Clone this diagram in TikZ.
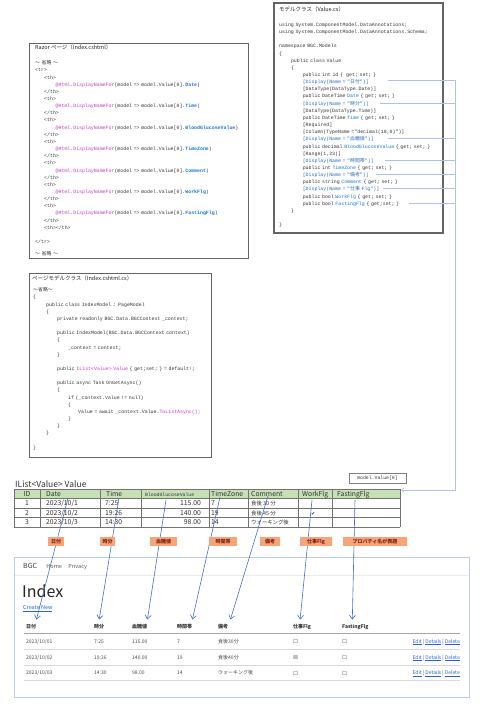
\documentclass[tikz,border=0pt]{standalone}
\usepackage{fontspec}
\setmainfont{Noto Sans CJK JP}
\newfontfamily\codefont{Liberation Mono}
\newfontfamily\jp{Noto Sans CJK JP}
\newfontfamily\symfont{DejaVu Sans}
\usetikzlibrary{arrows.meta,positioning}

\definecolor{codegray}{RGB}{55,55,55}
\definecolor{dispblue}{RGB}{40,110,190}
\definecolor{propblue}{RGB}{30,120,210}
\definecolor{razmag}{RGB}{200,60,190}
\definecolor{framegray}{RGB}{100,100,100}
\definecolor{linkline}{RGB}{175,195,225}
\definecolor{flowblue}{RGB}{68,114,196}
\definecolor{hdrgreen}{RGB}{197,224,180}
\definecolor{tagfill}{RGB}{246,165,122}
\definecolor{tagtext}{RGB}{130,35,15}
\definecolor{webframe}{RGB}{190,205,230}
\definecolor{weblink}{RGB}{40,100,220}

\newcommand\ia{\hspace*{11.8pt}}
\newcommand\ib{\hspace*{23.6pt}}
\newcommand\ra{\hspace*{9pt}}
\newcommand\rb{\hspace*{20.5pt}}
\newcommand\dsp[1]{\textcolor{dispblue}{#1}}
\newcommand\prp[1]{\textcolor{propblue}{#1}}
\newcommand\mg[1]{\textcolor{razmag}{#1}}
\newcommand\hn[1]{\mg{@Html.DisplayNameFor}(model => model.Value[0].\textbf{\prp{#1}})}

\begin{document}
\begin{tikzpicture}[x=1pt,y=-1pt,
  code/.style={font=\codefont\fontsize{4.9}{7.15}\selectfont,text=codegray,align=left,
    text width=220pt,inner sep=0pt,anchor=base west},
  ttl/.style={font=\fontsize{5.5}{6}\selectfont,text=black!85,inner sep=0pt,anchor=base west},
  frame/.style={draw=framegray,line width=0.9pt},
  tcell/.style={anchor=base west,font=\fontsize{6.8}{7}\selectfont,text=black!80,inner sep=0pt},
  tline/.style={draw=black!55,line width=0.4pt},
  tag/.style={fill=tagfill,text=tagtext,font=\fontsize{5}{6}\selectfont\bfseries,
    minimum height=9.5pt,inner sep=0pt},
  flow/.style={draw=flowblue,line width=0.6pt,-{Straight Barb[length=4pt,width=6pt]}},
  link/.style={draw=linkline,line width=0.6pt},
  whd/.style={anchor=base west,font=\fontsize{5}{6}\selectfont\bfseries,text=black!80,
    inner xsep=0pt,inner ysep=4pt},
  wcell/.style={anchor=base west,font=\fontsize{5}{6}\selectfont,text=black!70,inner sep=0pt},
  navlink/.style={font=\fontsize{5.5}{6}\selectfont,text=black!65,inner sep=0pt},
  cbox/.style={draw=black!22,line width=0.3pt}]
  \path[fill=white] (0,0) rectangle (474,706);

  % model class
  \draw[frame,line width=1.1pt] (274,3) rectangle (443,233);
  \node[ttl] (mtitle) at (279,12) {モデルクラス（Value.cs）};
  \node[code] (mcode) at (279,26.5) {using System.ComponentModel.DataAnnotations;\\
using System.ComponentModel.DataAnnotations.Schema;\\
\mbox{}\\
namespace BGC.Models\\
\{\\
\ia public class Value\\
\ia\{\\
\ib public int id \{~ get; set; \}\\
\ib\dsp{[Display(Name = "{\jp 日付}")]}\\
\ib [DataType(DataType.Date)]\\
\ib public DateTime \prp{Date} \{ get; set; \}\\
\ib\dsp{[Display(Name = "{\jp 時分}")]}\\
\ib [DataType(DataType.Time)]\\
\ib public DateTime \prp{Time} \{ get; set; \}\\
\ib [Required]\\
\ib [Column(TypeName ="decimal(18,0)")]\\
\ib\dsp{[Display(Name = "{\jp 血糖値}")]}\\
\ib public decimal \prp{BloodGlucoseValue} \{ get; set; \}\\
\ib [Range(1,23)]\\
\ib\dsp{[Display(Name = "{\jp 時間帯}")]}\\
\ib public int \prp{TimeZone} \{ get; set; \}\\
\ib\dsp{[Display(Name = "{\jp 備考}")]}\\
\ib public string \prp{Comment} \{ get; set; \}\\
\ib\dsp{[Display(Name = "{\jp 仕事} Flg")]}\\
\ib public bool \prp{WorkFlg} \{ get; set; \}\\
\ib public bool \prp{FastingFlg} \{ get;set; \}\\
\ia\}\\
\mbox{}\\
\}};

  % razor page
  \draw[frame] (29,43) rectangle (248,258);
  \node[ttl] (rtitle) at (35,50) {Razor ページ（Index.cshtml）};
  \node[code] (rcode) at (35,64.8) {{\jp ～ 省略 ～}\\
<tr>\\
\ra <th>\\
\rb\hn{Date}\\
\ra </th>\\
\ra <th>\\
\rb\hn{Time}\\
\ra </th>\\
\ra <th>\\
\rb\hn{BloodGlucoseValue}\\
\ra </th>\\
\ra <th>\\
\rb\hn{TimeZone}\\
\ra </th>\\
\ra <th>\\
\rb\hn{Comment}\\
\ra </th>\\
\ra <th>\\
\rb\hn{WorkFlg}\\
\ra </th>\\
\ra <th>\\
\rb\hn{FastingFlg}\\
\ra </th>\\
\ra <th></th>\\
\mbox{}\\
</tr>};
  \node[code] (romit) at (35,255) {{\jp ～ 省略 ～}};

  % page model
  \draw[frame] (29,273) rectangle (211,457);
  \node[ttl] (ptitle) at (32,280) {ページモデルクラス（Index.cshtml.cs）};
  \node[code] (pcode) at (33,291.8) {{\jp ～省略～}\\
\{\\
\hspace*{13pt}public class IndexModel : PageModel\\
\hspace*{13pt}\{\\
\hspace*{24pt}private readonly BGC.Data.BGCContext \_context;\\
\mbox{}\\
\hspace*{24pt}public IndexModel(BGC.Data.BGCContext context)\\
\hspace*{24pt}\{\\
\hspace*{35pt}\_context = context;\\
\hspace*{24pt}\}\\
\mbox{}\\
\hspace*{24pt}public \mg{IList<Value> Value} \{ get;set; \} = default!;\\
\mbox{}\\
\hspace*{24pt}public async Task OnGetAsync()\\
\hspace*{24pt}\{\\
\hspace*{35pt}if (\_context.Value != null)\\
\hspace*{35pt}\{\\
\hspace*{45pt}Value = await \_context.Value.\mg{ToListAsync();}\\
\hspace*{35pt}\}\\
\hspace*{24pt}\}\\
\hspace*{13pt}\}\\
\mbox{}\\
\}};

  % display links to the list
  \coordinate (dDate) at (388,80);
  \coordinate (dTime) at (380,103);
  \coordinate (dBgv) at (388,138);
  \coordinate (dZone) at (385,160);
  \coordinate (dCom) at (376,174);
  \coordinate (dWork) at (383,188);
  \coordinate (dFast) at (409,203);
  \coordinate (bTop) at (455,80);
  \coordinate (bBot) at (455,490);
  \coordinate (tblEnd) at (401,490);
  \draw[link,-{Straight Barb[length=2.5pt,width=4pt]}] (dDate) -- (bTop) -- (bBot) -- (tblEnd);
  \foreach \p in {dTime,dBgv,dZone,dCom,dWork,dFast}
    \draw[link] (\p) -- (\p -| bTop);
  \node[draw=black!50,line width=0.4pt,font=\codefont\fontsize{4.8}{5}\selectfont,text=codegray,
    minimum width=57pt,minimum height=10pt,inner sep=0pt] (mval) at (377.5,478.5) {model.Value[0]};

  % list table
  \node[anchor=base west,inner sep=0pt,font=\fontsize{8.5}{9}\selectfont,text=black!80] (ltitle)
    at (15,487) {IList<Value> Value};
  \fill[hdrgreen] (14,489) rectangle (400,498.5);
  \foreach \x in {14,40,100,141,209,248,298,332,400}
    \draw[tline] (\x,489) -- (\x,527);
  \foreach \y in {489,498.5,508,517.5,527}
    \draw[tline] (14,\y) -- (400,\y);
  \node[tcell,anchor=base] (thId) at (27,496) {ID};
  \node[tcell] (thDate) at (46,496) {Date};
  \node[tcell] (thTime) at (106,496) {Time};
  \node[tcell,font=\codefont\fontsize{4.8}{5}\selectfont] (thBgv) at (145,496) {BloodGlucoseValue};
  \node[tcell] (thZone) at (211,496) {TimeZone};
  \node[tcell] (thCom) at (251,496) {Comment};
  \node[tcell] (thWork) at (302,496) {WorkFlg};
  \node[tcell] (thFast) at (337,496) {FastingFlg};
  \foreach \r/\y/\tm/\v/\z/\c in {1/505.7/7:25/115.00/7/{食後 30 分},
      2/515.2/19:26/140.00/19/{食後 45 分},3/524.7/14:30/98.00/14/ウォーキング後}{
    \node[tcell,anchor=base] (tid\r) at (27,\y) {\r};
    \node[tcell] (tdate\r) at (46,\y) {2023/10/\r};
    \node[tcell] (ttime\r) at (105,\y) {\tm};
    \node[tcell,anchor=base east] (tbgv\r) at (201,\y) {\v};
    \node[tcell] (tzone\r) at (211,\y) {\z};
    \node[tcell,font=\fontsize{5.4}{6}\selectfont] (tcom\r) at (251,\y) {\c};
  }
  \node[tcell,font=\symfont\fontsize{5}{6}\selectfont] (tcheck) at (311,515) {✔};

  % web page
  \draw[draw=webframe,line width=0.9pt] (14,557) rectangle (469,697);
  \draw[black!8,line width=1.2pt] (15,575.5) -- (468,575.5);
  \node[anchor=base west,inner sep=0pt,font=\fontsize{7}{8}\selectfont,text=black!75] (wBrand)
    at (23,568.5) {BGC};
  \node[navlink,base right=9pt of wBrand] (wHome) {Home};
  \node[navlink,base right=6pt of wHome] (wPriv) {Privacy};
  \node[anchor=base west,inner sep=0pt,font=\fontsize{16}{18}\selectfont,text=black!85] (wIndex)
    at (22,597.5) {Index};
  \node[anchor=base west,inner sep=0pt,font=\fontsize{5.5}{6}\selectfont,text=weblink] (wNew)
    at (23,609.5) {\underline{Create New}};
  \node[whd] (hDate) at (26,628) {日付};
  \node[whd] (hTime) at (94,628) {時分};
  \node[whd] (hBgv) at (132,628) {血糖値};
  \node[whd] (hZone) at (177,628) {時間帯};
  \node[whd] (hCom) at (218,628) {備考};
  \node[whd] (hWork) at (293,628) {仕事Flg};
  \node[whd] (hFast) at (342,628) {FastingFlg};
  \draw[black!35,line width=0.6pt] (24,633) -- (460,633);
  \foreach \y in {649,665,680}
    \draw[black!15,line width=0.4pt] (24,\y) -- (460,\y);
  \foreach \r/\y/\tm/\v/\z/\c in {1/643/7:25/115.00/7/食後30分,
      2/659/19:26/140.00/19/食後40分,3/674.5/14:30/98.00/14/ウォーキング後}{
    \node[wcell] (wdate\r) at (26,\y) {2023/10/0\r};
    \node[wcell] (wtime\r) at (94,\y) {\tm};
    \node[wcell] (wbgv\r) at (132,\y) {\v};
    \node[wcell] (wzone\r) at (177,\y) {\z};
    \node[wcell] (wcom\r) at (218,\y) {\c};
    \draw[cbox] (293.5,\y-3.6) rectangle (296.7,\y-0.4);
    \draw[cbox] (342.5,\y-3.6) rectangle (345.7,\y-0.4);
    \node[wcell,anchor=base east] (wact\r) at (460,\y)
      {\textcolor{weblink}{\underline{Edit}} | \textcolor{weblink}{\underline{Details}} | \textcolor{weblink}{\underline{Delete}}};
  }
  \fill[black!25] (293.5,655.4) rectangle (296.7,658.6);

  % table column to page header
  \coordinate (sDate) at (68,498);
  \coordinate (sTime) at (119,498);
  \coordinate (sBgv) at (166,500);
  \coordinate (sZone) at (220,497);
  \coordinate (sCom) at (268,496);
  \coordinate (sWork) at (312,500);
  \coordinate (sFast) at (355,500);
  \draw[flow] (sDate) -- (hDate.north east);
  \draw[flow] (sTime) -- (hTime.north);
  \draw[flow] (sBgv) -- (hBgv.north east);
  \draw[flow] (sZone) -- (hZone.north east);
  \draw[flow] (sCom) -- ([xshift=2pt]hCom.north east);
  \draw[flow] (sWork) -- ([xshift=-2pt]hWork.north);
  \draw[flow] (sFast) -- ([xshift=-3pt]hFast.north);

  % display name tags
  \node[tag,minimum width=16pt] (gDate) at (56,541.5) {日付};
  \node[tag,minimum width=15pt] (gTime) at (107.5,541.5) {時分};
  \node[tag,minimum width=27pt] (gBgv) at (163.5,541.5) {血糖値};
  \node[tag,minimum width=28pt] (gZone) at (223,541.5) {時間帯};
  \node[tag,minimum width=20pt] (gCom) at (270,541.5) {備考};
  \node[tag,minimum width=32pt] (gWork) at (316,541.5) {仕事Flg};
  \node[tag,minimum width=64pt] (gName) at (375,541.5) {プロパティ名が表題};
\end{tikzpicture}
\end{document}
